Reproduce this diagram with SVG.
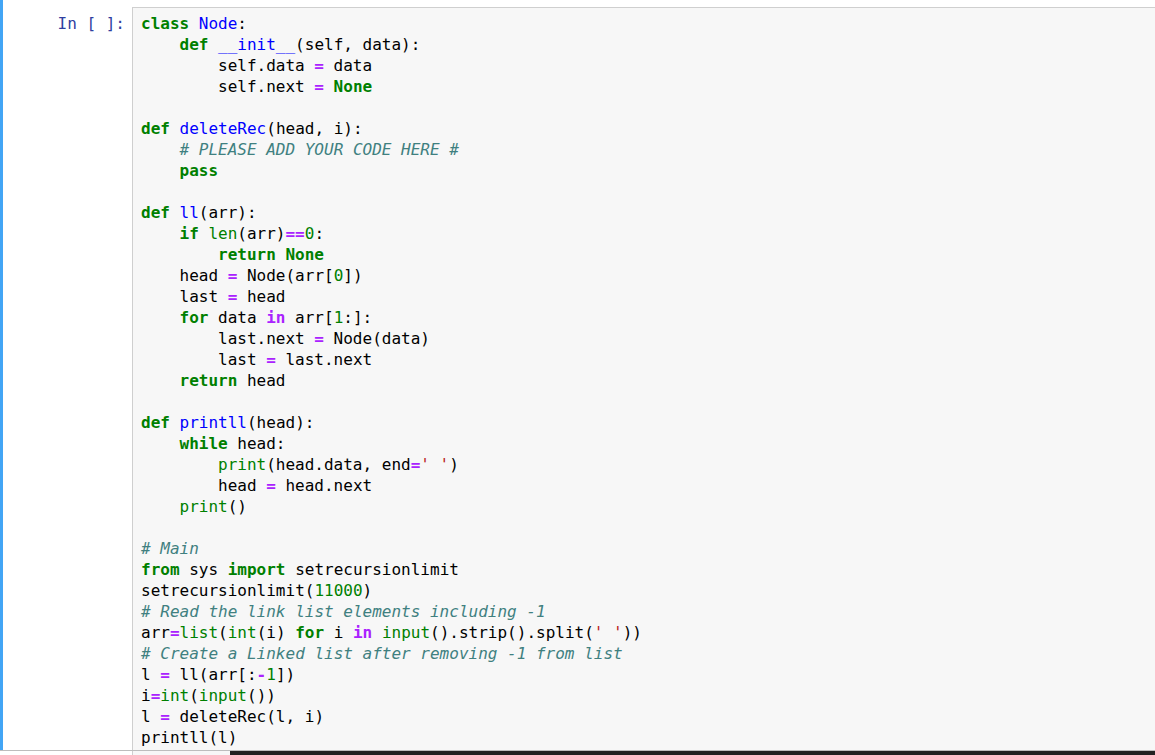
<svg xmlns="http://www.w3.org/2000/svg" width="1155" height="755" viewBox="0 0 1155 755">
<style>
text{font-family:"DejaVu Sans Mono","Liberation Mono",monospace;font-size:16px;fill:#000;white-space:pre}
.k{fill:#008000;font-weight:bold}
.b{fill:#008000}
.f{fill:#0000ff}
.o{fill:#aa22ff;font-weight:bold}
.n{fill:#008000}
.s{fill:#ba2121}
.c{fill:#408080;font-style:italic}
.p{fill:#303f9f}
</style>
<rect width="1155" height="755" fill="#fff"/>
<rect x="0" y="0" width="3" height="750" fill="#42a5f5"/>
<rect x="132.5" y="7.5" width="1030" height="750" fill="#f7f7f7" stroke="#cfcfcf"/>
<rect x="0" y="750" width="1155" height="1" fill="#bdbdbd"/>
<rect x="230" y="751" width="925" height="4" fill="#222"/>
<text class="p" x="125" y="29" text-anchor="end">In [ ]:</text>
<g id="code">
<text x="141" y="29"><tspan class="k">class</tspan> <tspan class="f">Node</tspan>:</text>
<text x="179.5" y="50"><tspan class="k">def</tspan> <tspan class="f">__init__</tspan>(self, data):</text>
<text x="218" y="71">self.data <tspan class="o">=</tspan> data</text>
<text x="218" y="92">self.next <tspan class="o">=</tspan> <tspan class="k">None</tspan></text>
<text x="141" y="134"><tspan class="k">def</tspan> <tspan class="f">deleteRec</tspan>(head, i):</text>
<text x="179.5" y="155" class="c"># PLEASE ADD YOUR CODE HERE #</text>
<text x="179.5" y="176" class="k">pass</text>
<text x="141" y="218"><tspan class="k">def</tspan> <tspan class="f">ll</tspan>(arr):</text>
<text x="179.5" y="239"><tspan class="k">if</tspan> <tspan class="b">len</tspan>(arr)<tspan class="o">==</tspan><tspan class="n">0</tspan>:</text>
<text x="218" y="260"><tspan class="k">return</tspan> <tspan class="k">None</tspan></text>
<text x="179.5" y="281">head <tspan class="o">=</tspan> Node(arr[<tspan class="n">0</tspan>])</text>
<text x="179.5" y="302">last <tspan class="o">=</tspan> head</text>
<text x="179.5" y="323"><tspan class="k">for</tspan> data <tspan class="o">in</tspan> arr[<tspan class="n">1</tspan>:]:</text>
<text x="218" y="344">last.next <tspan class="o">=</tspan> Node(data)</text>
<text x="218" y="365">last <tspan class="o">=</tspan> last.next</text>
<text x="179.5" y="386"><tspan class="k">return</tspan> head</text>
<text x="141" y="428"><tspan class="k">def</tspan> <tspan class="f">printll</tspan>(head):</text>
<text x="179.5" y="449"><tspan class="k">while</tspan> head:</text>
<text x="218" y="470"><tspan class="b">print</tspan>(head.data, end<tspan class="o">=</tspan><tspan class="s">' '</tspan>)</text>
<text x="218" y="491">head <tspan class="o">=</tspan> head.next</text>
<text x="179.5" y="512"><tspan class="b">print</tspan>()</text>
<text x="141" y="554" class="c"># Main</text>
<text x="141" y="575"><tspan class="k">from</tspan> sys <tspan class="k">import</tspan> setrecursionlimit</text>
<text x="141" y="596">setrecursionlimit(<tspan class="n">11000</tspan>)</text>
<text x="141" y="617" class="c"># Read the link list elements including -1</text>
<text x="141" y="638">arr<tspan class="o">=</tspan><tspan class="b">list</tspan>(<tspan class="b">int</tspan>(i) <tspan class="k">for</tspan> i <tspan class="o">in</tspan> <tspan class="b">input</tspan>().strip().split(<tspan class="s">' '</tspan>))</text>
<text x="141" y="659" class="c"># Create a Linked list after removing -1 from list</text>
<text x="141" y="680">l <tspan class="o">=</tspan> ll(arr[:<tspan class="o">-</tspan><tspan class="n">1</tspan>])</text>
<text x="141" y="701">i<tspan class="o">=</tspan><tspan class="b">int</tspan>(<tspan class="b">input</tspan>())</text>
<text x="141" y="722">l <tspan class="o">=</tspan> deleteRec(l, i)</text>
<text x="141" y="743">printll(l)</text>
</g>
</svg>
